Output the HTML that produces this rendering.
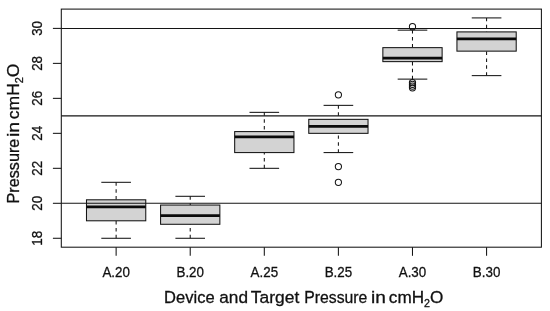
<!DOCTYPE html>
<html lang="en">
<head>
<meta charset="utf-8">
<title>Pressure by Device and Target Pressure</title>
<style>
html,body{margin:0;padding:0;background:#fff;}
body{width:550px;height:311px;overflow:hidden;}
svg{display:block;}
</style>
</head>
<body>
<svg width="550" height="311" viewBox="0 0 550 311" font-family="'Liberation Sans', sans-serif" fill="#111">
<rect x="0" y="0" width="550" height="311" fill="#ffffff"/>
<g fill="none" stroke="#141414" stroke-width="1.05">
<rect x="86.49" y="199.80" width="59.27" height="20.99" fill="#d3d3d3"/>
<line x1="86.49" y1="206.80" x2="145.76" y2="206.80" stroke-width="2.7" stroke="#0a0a0a"/>
<line x1="116.13" y1="238.28" x2="116.13" y2="220.79" stroke-dasharray="3.45 3.42"/>
<line x1="116.13" y1="182.31" x2="116.13" y2="199.80" stroke-dasharray="3.45 3.42"/>
<line x1="101.31" y1="238.28" x2="130.94" y2="238.28"/>
<line x1="101.31" y1="182.31" x2="130.94" y2="182.31"/>
<rect x="160.58" y="205.05" width="59.27" height="19.24" fill="#d3d3d3"/>
<line x1="160.58" y1="215.54" x2="219.85" y2="215.54" stroke-width="2.7" stroke="#0a0a0a"/>
<line x1="190.22" y1="238.28" x2="190.22" y2="224.29" stroke-dasharray="3.45 3.42"/>
<line x1="190.22" y1="196.30" x2="190.22" y2="205.05" stroke-dasharray="3.45 3.42"/>
<line x1="175.40" y1="238.28" x2="205.03" y2="238.28"/>
<line x1="175.40" y1="196.30" x2="205.03" y2="196.30"/>
<rect x="234.67" y="131.59" width="59.27" height="20.99" fill="#d3d3d3"/>
<line x1="234.67" y1="136.84" x2="293.94" y2="136.84" stroke-width="2.7" stroke="#0a0a0a"/>
<line x1="264.31" y1="168.32" x2="264.31" y2="152.58" stroke-dasharray="3.45 3.42"/>
<line x1="264.31" y1="112.35" x2="264.31" y2="131.59" stroke-dasharray="3.45 3.42"/>
<line x1="249.49" y1="168.32" x2="279.12" y2="168.32"/>
<line x1="249.49" y1="112.35" x2="279.12" y2="112.35"/>
<rect x="308.76" y="119.35" width="59.27" height="13.99" fill="#d3d3d3"/>
<line x1="308.76" y1="126.34" x2="368.03" y2="126.34" stroke-width="2.7" stroke="#0a0a0a"/>
<line x1="338.39" y1="152.58" x2="338.39" y2="133.34" stroke-dasharray="3.45 3.42"/>
<line x1="338.39" y1="105.36" x2="338.39" y2="119.35" stroke-dasharray="3.45 3.42"/>
<line x1="323.58" y1="152.58" x2="353.21" y2="152.58"/>
<line x1="323.58" y1="105.36" x2="353.21" y2="105.36"/>
<circle cx="338.39" cy="94.86" r="3.1"/>
<circle cx="338.39" cy="166.57" r="3.1"/>
<circle cx="338.39" cy="182.31" r="3.1"/>
<rect x="382.85" y="47.64" width="59.27" height="13.99" fill="#d3d3d3"/>
<line x1="382.85" y1="58.13" x2="442.12" y2="58.13" stroke-width="2.7" stroke="#0a0a0a"/>
<line x1="412.48" y1="79.12" x2="412.48" y2="61.63" stroke-dasharray="3.45 3.42"/>
<line x1="412.48" y1="30.15" x2="412.48" y2="47.64" stroke-dasharray="3.45 3.42"/>
<line x1="397.67" y1="79.12" x2="427.30" y2="79.12"/>
<line x1="397.67" y1="30.15" x2="427.30" y2="30.15"/>
<circle cx="412.48" cy="26.65" r="3.1"/>
<circle cx="412.48" cy="82.62" r="3.1"/>
<circle cx="412.48" cy="84.37" r="3.1"/>
<circle cx="412.48" cy="86.12" r="3.1"/>
<circle cx="412.48" cy="87.87" r="3.1"/>
<rect x="456.94" y="31.90" width="59.27" height="19.24" fill="#d3d3d3"/>
<line x1="456.94" y1="38.89" x2="516.21" y2="38.89" stroke-width="2.7" stroke="#0a0a0a"/>
<line x1="486.57" y1="75.62" x2="486.57" y2="51.14" stroke-dasharray="3.45 3.42"/>
<line x1="486.57" y1="17.91" x2="486.57" y2="31.90" stroke-dasharray="3.45 3.42"/>
<line x1="471.76" y1="75.62" x2="501.39" y2="75.62"/>
<line x1="471.76" y1="17.91" x2="501.39" y2="17.91"/>
<line x1="61.30" y1="203.30" x2="541.40" y2="203.30"/>
<line x1="61.30" y1="115.85" x2="541.40" y2="115.85"/>
<line x1="61.30" y1="28.40" x2="541.40" y2="28.40"/>
<rect x="61.30" y="9.10" width="480.10" height="238.10"/>
<line x1="52.90" y1="238.28" x2="61.30" y2="238.28"/>
<line x1="52.90" y1="203.30" x2="61.30" y2="203.30"/>
<line x1="52.90" y1="168.32" x2="61.30" y2="168.32"/>
<line x1="52.90" y1="133.34" x2="61.30" y2="133.34"/>
<line x1="52.90" y1="98.36" x2="61.30" y2="98.36"/>
<line x1="52.90" y1="63.38" x2="61.30" y2="63.38"/>
<line x1="52.90" y1="28.40" x2="61.30" y2="28.40"/>
<line x1="116.13" y1="247.20" x2="116.13" y2="255.80"/>
<line x1="190.22" y1="247.20" x2="190.22" y2="255.80"/>
<line x1="264.31" y1="247.20" x2="264.31" y2="255.80"/>
<line x1="338.39" y1="247.20" x2="338.39" y2="255.80"/>
<line x1="412.48" y1="247.20" x2="412.48" y2="255.80"/>
<line x1="486.57" y1="247.20" x2="486.57" y2="255.80"/>
</g>
<g font-size="15.3px" text-anchor="middle" stroke="#111" stroke-width="0.3">
<text transform="translate(42.1 238.28) rotate(-90) scale(0.875 1)">18</text>
<text transform="translate(42.1 203.30) rotate(-90) scale(0.875 1)">20</text>
<text transform="translate(42.1 168.32) rotate(-90) scale(0.875 1)">22</text>
<text transform="translate(42.1 133.34) rotate(-90) scale(0.875 1)">24</text>
<text transform="translate(42.1 98.36) rotate(-90) scale(0.875 1)">26</text>
<text transform="translate(42.1 63.38) rotate(-90) scale(0.875 1)">28</text>
<text transform="translate(42.1 28.40) rotate(-90) scale(0.875 1)">30</text>
<text transform="translate(116.13 277.4) scale(0.875 1)">A.20</text>
<text transform="translate(190.22 277.4) scale(0.875 1)">B.20</text>
<text transform="translate(264.31 277.4) scale(0.875 1)">A.25</text>
<text transform="translate(338.39 277.4) scale(0.875 1)">B.25</text>
<text transform="translate(412.48 277.4) scale(0.875 1)">A.30</text>
<text transform="translate(486.57 277.4) scale(0.875 1)">B.30</text>
</g>
<g font-size="17.0px" stroke="#111" stroke-width="0.3">
<text transform="translate(164.12 303.2) scale(0.9730 1)">Device</text>
<text transform="translate(219.22 303.2) scale(1.0139 1)">and</text>
<text transform="translate(250.80 303.2) scale(1.0266 1)">Target</text>
<text transform="translate(304.28 303.2) scale(0.9283 1)">Pressure</text>
<text transform="translate(370.90 303.2) scale(1.1241 1)">in</text>
<text transform="translate(388.82 303.2) scale(1.0101 1)">cmH<tspan font-size="10.6px" dy="3.4">2</tspan><tspan dy="-3.4">O</tspan></text>
<text transform="translate(19.4 203.45) rotate(-90) scale(0.9527 1)">Pressure</text>
<text transform="translate(19.4 137.02) rotate(-90) scale(1.1424 1)">in</text>
<text transform="translate(19.4 119.20) rotate(-90) scale(1.0310 1)">cmH<tspan font-size="10.6px" dy="3.4">2</tspan><tspan dy="-3.4">O</tspan></text>
</g>
</svg>
</body>
</html>
